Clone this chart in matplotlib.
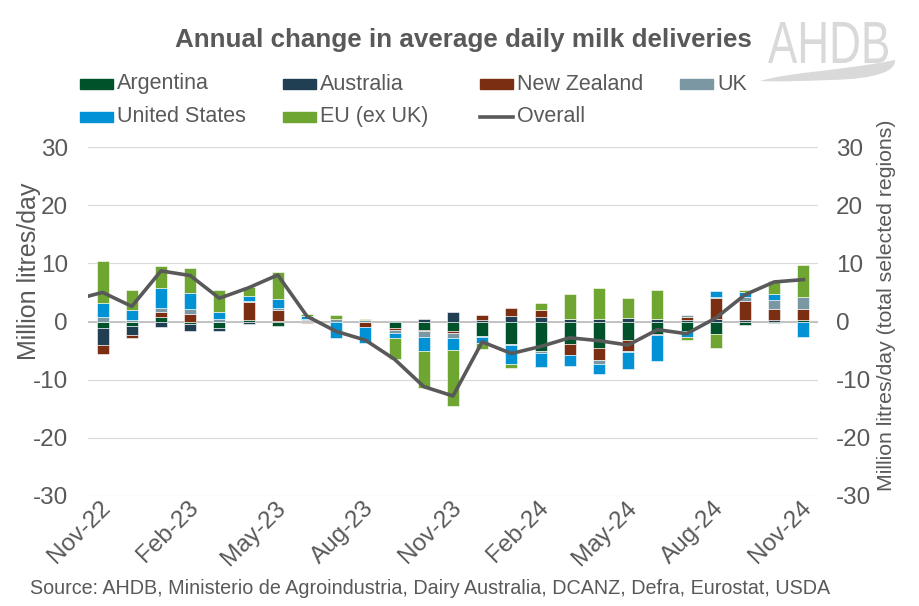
import numpy as np
import matplotlib
matplotlib.use("Agg")
import matplotlib.pyplot as plt
from matplotlib.patches import Rectangle, PathPatch
from matplotlib.lines import Line2D
from matplotlib.textpath import TextPath
from matplotlib.font_manager import FontProperties
from matplotlib.path import Path
from matplotlib.transforms import Affine2D, ScaledTranslation

plt.rcParams['font.family'] = ['Liberation Sans', 'DejaVu Sans']
plt.rcParams['axes.unicode_minus'] = False

months = ["Nov-22", "Dec-22", "Jan-23", "Feb-23", "Mar-23", "Apr-23", "May-23", "Jun-23",
          "Jul-23", "Aug-23", "Sep-23", "Oct-23", "Nov-23", "Dec-23", "Jan-24", "Feb-24",
          "Mar-24", "Apr-24", "May-24", "Jun-24", "Jul-24", "Aug-24", "Sep-24", "Oct-24", "Nov-24"]

argentina = [-1.2, -0.7, 0.8, -0.45, -1.1, 0.3, -0.7, 0.15, 0.0, -0.15, -1.15, -1.4, -1.55,
             -2.5, -3.8, -5.1, -3.9, -4.6, -3.1, -2.2, -1.55, -2.2, -0.6, -0.3, 0.3]
australia = [-2.9, -1.7, -1.0, -1.2, -0.6, -0.5, 0.1, 0.15, 0.0, 0.0, 0.1, 0.5, 1.55,
             0.3, 1.0, 0.8, 0.4, 0.4, 0.55, 0.5, 0.3, 0.45, 0.3, 0.3, 0.0]
new_zealand = [-1.5, -0.5, 0.9, 1.3, 0.0, 3.1, 1.9, -0.3, 0.0, -0.85, -0.3, -0.2, -0.35,
               0.85, 1.3, 1.25, -1.85, -2.0, -1.95, -0.15, 0.5, 3.55, 3.3, 1.9, 1.9]
uk = [0.85, 0.2, 0.6, 0.9, 0.35, 0.2, 0.35, 0.2, 0.35, 0.3, -0.55, -1.0, -1.0,
      -0.2, -0.2, -0.35, 0.0, -0.75, -0.2, 0.0, 0.25, 0.2, 0.6, 1.45, 2.0]
united_states = [2.4, 1.7, 3.5, 2.7, 1.3, 0.7, 1.5, 0.5, -2.9, -2.7, -0.9, -2.4, -2.05,
                 -1.0, -3.3, -2.35, -1.85, -1.65, -2.9, -4.5, -1.15, 1.05, 0.85, 1.05, -2.7]
eu = [7.2, 3.6, 3.8, 4.3, 3.7, 1.7, 4.6, 0.3, 0.85, 0.2, -3.6, -6.5, -9.5,
      -1.0, -0.7, 1.2, 4.25, 5.3, 3.55, 5.0, -0.5, -2.4, 0.3, 2.2, 5.5]
# Overall line; first point (Oct-22) lies just left of the plot and is clipped
overall_months_offset = -1
overall = [3.7, 5.0, 2.6, 8.7, 7.9, 4.0, 5.8, 8.0, 0.9, -1.7, -3.2, -6.5, -11.2, -12.8,
           -3.5, -5.5, -4.3, -2.8, -3.3, -4.05, -1.4, -2.1, 0.6, 4.6, 6.8, 7.2]

series = [("Argentina", argentina, "#00522B"),
          ("Australia", australia, "#203F52"),
          ("New Zealand", new_zealand, "#7B2E12"),
          ("UK", uk, "#7B97A3"),
          ("United States", united_states, "#0092D5"),
          ("EU (ex UK)", eu, "#6EA631")]

W, H = 920, 606
fig = plt.figure(figsize=(W / 100, H / 100), dpi=100)
L, R, T, B = 88, 818, 147, 496
ax = fig.add_axes([L / W, 1 - B / H, (R - L) / W, (B - T) / H])

txt = "#595959"
x = np.arange(len(months))
pos_bottom = np.zeros(len(months))
neg_bottom = np.zeros(len(months))
for name, vals, col in series:
    v = np.array(vals, dtype=float)
    bottoms = np.where(v >= 0, pos_bottom, neg_bottom)
    ax.bar(x, v, width=0.41, bottom=bottoms, color=col, edgecolor="white",
           linewidth=0.4, zorder=3, label=name)
    pos_bottom += np.where(v >= 0, v, 0)
    neg_bottom += np.where(v < 0, v, 0)

ax.set_xlim(-0.5, len(months) - 0.5)
ax.set_ylim(-30, 30)
ax.set_yticks(range(-30, 31, 10))
ax.grid(axis="y", color="#d9d9d9", linewidth=0.8, zorder=0)
ax.axhline(0, color="#bfbfbf", linewidth=1.3, zorder=2)
for s in ax.spines.values():
    s.set_visible(False)
ax.tick_params(axis="both", length=0, labelsize=17.5, labelcolor=txt)
ax.tick_params(axis="y", pad=14.5)
ax.set_xticks(x[::3])
ax.set_xticklabels(months[::3], rotation=45, ha="right", va="top",
                   rotation_mode="anchor")
off = ScaledTranslation(-3 / 100, 4 / 100, fig.dpi_scale_trans)
for lab in ax.get_xticklabels():
    lab.set_transform(lab.get_transform() + off)
ax.set_ylabel("Million litres/day", fontsize=18, color=txt)
ax.yaxis.set_label_coords((41 - L) / (R - L), (B - 271) / (B - T))

ax2 = ax.twinx()
ax2.set_ylim(-30, 30)
ax2.set_yticks(range(-30, 31, 10))
for s in ax2.spines.values():
    s.set_visible(False)
ax2.tick_params(axis="y", length=0, labelsize=17.5, labelcolor=txt, pad=13)
xl = np.arange(len(overall)) + overall_months_offset
ax2.plot(xl, overall, color="#595959", linewidth=2.6, zorder=5,
         solid_joinstyle="round", clip_on=True)
ax2.set_ylabel("Million litres/day (total selected regions)", fontsize=15.3, color=txt)
ax2.yaxis.set_label_coords((877 - L) / (R - L), (B - 305) / (B - T))

fig.text(463 / W, 1 - 40 / H, "Annual change in average daily milk deliveries",
         ha="center", va="center", fontsize=18.7, fontweight="bold", color=txt)

# legend (Excel-style uniform columns)
leg_items = [("Argentina", "#00522B", "patch", 80, 84),
             ("Australia", "#203F52", "patch", 283, 84),
             ("New Zealand", "#7B2E12", "patch", 480, 84),
             ("UK", "#7B97A3", "patch", 680, 84),
             ("United States", "#0092D5", "patch", 80, 117),
             ("EU (ex UK)", "#6EA631", "patch", 283, 117),
             ("Overall", "#595959", "line", 480, 117)]
for name, col, kind, lx, ly in leg_items:
    if kind == "patch":
        fig.patches.append(Rectangle((lx / W, 1 - (ly + 5) / H), 33 / W, 10 / H,
                                     transform=fig.transFigure, color=col))
    else:
        fig.lines.append(Line2D([lx / W, (lx + 33) / W], [1 - ly / H, 1 - ly / H],
                                transform=fig.transFigure, color=col, linewidth=2.6))
    fig.text((lx + 37) / W, 1 - ly / H, name, ha="left", va="center",
             fontsize=15.5, color=txt)

fig.text(30 / W, 1 - 589 / H,
         "Source: AHDB, Ministerio de Agroindustria, Dairy Australia, DCANZ, Defra, Eurostat, USDA",
         ha="left", va="center", fontsize=14.2, color=txt)

# AHDB logo (decorative)
logo_col = "#d9d9d9"
tp = TextPath((0, 0), "AHDB", size=1, prop=FontProperties(family="Liberation Sans"))
ext = tp.get_extents()
bx0, bx1, by0, by1 = 768, 888, 606 - 63, 606 - 22
sx = (bx1 - bx0) / ext.width
sy = (by1 - by0) / ext.height
tr = Affine2D().translate(-ext.x0, -ext.y0).scale(sx / 100, sy / 100).translate(bx0 / 100, by0 / 100)
fig.patches.append(PathPatch(tp, transform=tr + fig.dpi_scale_trans, color=logo_col, lw=0))
verts = [(760, 81), (790, 72), (840, 71), (895, 60),
         (896, 70), (880, 79), (830, 80),
         (800, 81), (780, 82), (760, 81)]
codes = [Path.MOVETO, Path.CURVE4, Path.CURVE4, Path.CURVE4,
         Path.CURVE4, Path.CURVE4, Path.CURVE4,
         Path.CURVE4, Path.CURVE4, Path.CURVE4]
verts_px = [(vx / 100, (606 - vy) / 100) for vx, vy in verts]
fig.patches.append(PathPatch(Path(verts_px, codes), transform=fig.dpi_scale_trans,
                             color=logo_col, lw=0))

fig.savefig("out.png", dpi=100, facecolor="white")
